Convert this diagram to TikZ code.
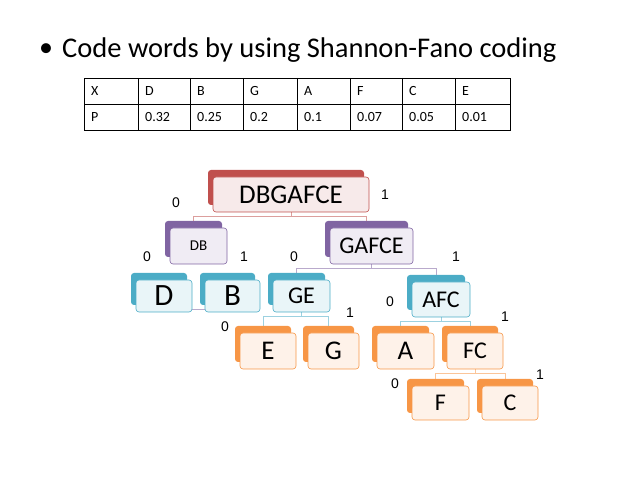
\documentclass[tikz,border=0pt]{standalone}
\usepackage{fontspec}
\setmainfont{Carlito}
\newfontfamily\lab{Liberation Sans}
\usetikzlibrary{backgrounds}
\begin{document}
\begin{tikzpicture}[x=1pt,y=-1pt]
\definecolor{cR}{HTML}{C0504D}\definecolor{cP}{HTML}{8064A2}
\definecolor{cB}{HTML}{4BACC6}\definecolor{cO}{HTML}{F79646}
\tikzset{backbox/.style={rounded corners=3pt,inner sep=0pt},
 frontbox/.style={rounded corners=3pt,inner sep=0pt,line width=0.6pt},
 conn/.style={draw=#1,line width=0.6pt},
 lbl/.style={font=\lab\fontsize{14}{14}\selectfont,inner sep=0pt},
 cell/.style={anchor=west,font=\fontsize{14}{16}\selectfont,inner sep=0pt}}
\useasboundingbox (0,0) rectangle (638,478);
\newcommand\tb[8]{%
 \node[backbox,fill=#6,minimum width=#4,minimum height=#5] (#1b) at ({#2-5},{#3-7}) {};
 \node[frontbox,draw=#6,fill=#6!12,minimum width=#4,minimum height=#5] (#1) at (#2,#3) {\fontsize{#7}{#7}\selectfont #8};}
% title
\node[font=\fontsize{28}{30}\selectfont,inner sep=0pt] (bul) at (46,50) {\textbullet};
\node[anchor=west,font=\fontsize{28.5}{30}\selectfont,inner sep=0pt] (title) at (62,50) {Code words by using Shannon-Fano coding};
% table
\draw[line width=0.6pt] (84,78) rectangle (510,130);
\draw[line width=0.6pt] (84,104) -- (510,104);
\foreach \x in {138,190,243,297,350,402,455} \draw[line width=0.6pt] (\x,78) -- (\x,130);
\foreach \x/\a/\b in {84/X/P,138/D/0.32,190/B/0.25,243/G/0.2,297/A/0.1,350/F/0.07,402/C/0.05,455/E/0.01}{
 \node[cell] at (\x+7,91) {\a}; \node[cell] at (\x+7,117) {\b};}
% nodes
\tb{r}{291}{194.5}{156}{35}{cR}{27}{DBGAFCE}
\tb{db}{198.5}{246}{57}{36}{cP}{15}{DB}
\tb{gafce}{371.5}{246}{83}{36}{cP}{24}{GAFCE}
\tb{d}{164}{296}{56}{32}{cB}{31}{D}
\tb{bb}{232.5}{296}{55}{32}{cB}{31}{B}
\tb{ge}{301.5}{296}{57}{32}{cB}{24}{GE}
\tb{afc}{441}{299.5}{58}{35}{cB}{24}{AFC}
\tb{e}{268}{351}{56}{36}{cO}{27}{E}
\tb{g}{333.5}{351}{51}{36}{cO}{27}{G}
\tb{a}{405.5}{351}{57}{36}{cO}{27}{A}
\tb{fc}{475}{351}{56}{36}{cO}{24}{FC}
\tb{f}{440.5}{403}{57}{34}{cO}{24}{F}
\tb{c}{510}{403}{56}{34}{cO}{24}{C}
% connectors
\begin{scope}[on background layer]
\foreach \p/\c/\col in {r/db/cR,r/gafce/cR,db/d/cP,db/bb/cP,gafce/ge/cP,gafce/afc/cP,ge/e/cB,ge/g/cB,afc/a/cB,afc/fc/cB,fc/f/cO,fc/c/cO}
 \draw[conn=\col!55] (\p.south) -- ++(0,4) -| (\c b.north);
\end{scope}
% labels
\foreach \n/\x/\y/\t in {l1/176/203/0,l2/385/195/1,l3/147/257/0,l4/244/257/1,l5/294/257/0,l6/456/257/1,l7/350/313/1,l8/390/302/0,l9/505/317/1,l10/225/327/0,l11/395/384/0,l12/540/375/1}
 \node[lbl] (\n) at (\x,\y) {\t};
\end{tikzpicture}
\end{document}
